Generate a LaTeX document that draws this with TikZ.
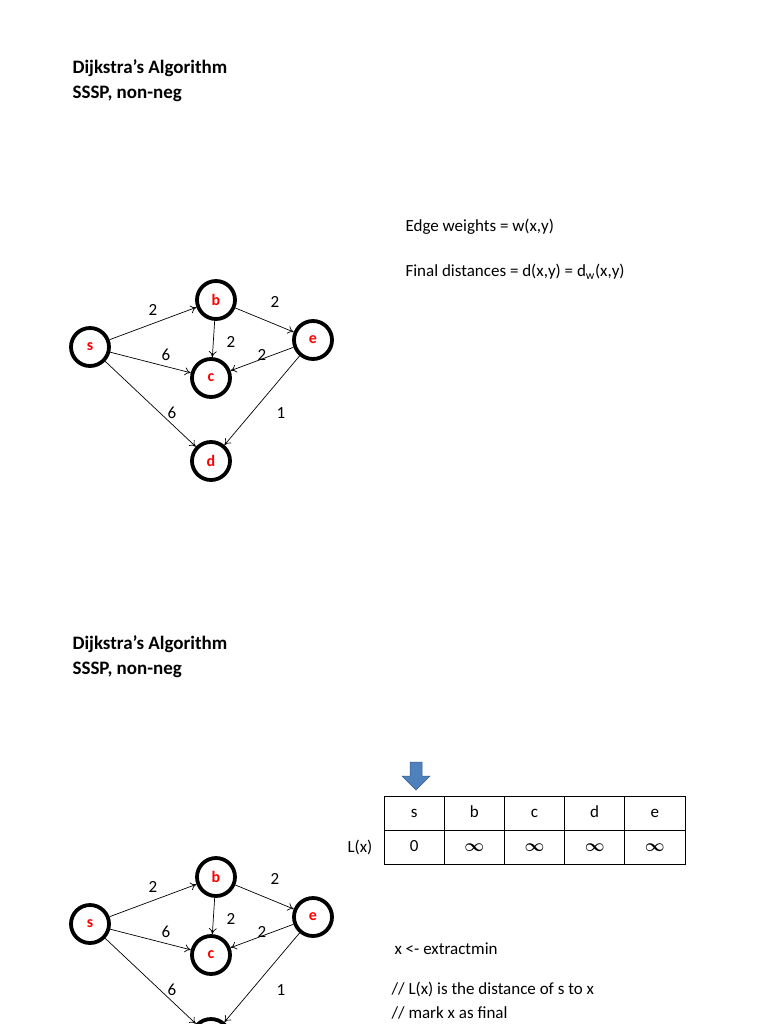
\documentclass[tikz,border=0pt]{standalone}
\usepackage{amsmath}
\usepackage{fontspec}
\setmainfont{Carlito}
\usetikzlibrary{shapes.arrows,arrows.meta}
\begin{document}
\begin{tikzpicture}[x=1pt,y=-1pt,
  vtx/.style={circle,draw=black,line width=3.8pt,minimum size=38pt,inner sep=0pt,text=red,font=\fontsize{16}{18}\selectfont\bfseries},
  edg/.style={-{To[length=6pt,width=8pt]},line width=0.7pt},
  wl/.style={font=\fontsize{17}{19}\selectfont},
  ttl/.style={anchor=west,font=\fontsize{19}{21}\selectfont\bfseries},
  txt/.style={anchor=west,font=\fontsize{17}{19}\selectfont},
  cell/.style={draw=black,line width=1pt,minimum width=60.2pt,minimum height=34pt,inner sep=0pt,text height=11pt,text depth=2pt,font=\fontsize{17}{19}\selectfont}]
\useasboundingbox (0,0) rectangle (768,1024);
\clip (0,0) rectangle (768,1024);
\fill[white] (0,0) rectangle (768,1024);
% top slide
\node[ttl] (t1) at (69,68) {Dijkstra’s Algorithm};
\node[ttl] (t2) at (69,94) {SSSP, non-neg};
\node[txt] (w1) at (402,227) {Edge weights = w(x,y)};
\node[txt] (w2) at (402,272) {Final distances = d(x,y) = d\textsubscript{w}(x,y)};
\foreach \p/\dy in {a/0,z/577}{
  \node[vtx] (s\p) at (90,347+\dy) {s};
  \node[vtx] (b\p) at (216,300+\dy) {b};
  \node[vtx] (c\p) at (211,378+\dy) {c};
  \node[vtx] (e\p) at (313,340+\dy) {e};
  \node[vtx] (d\p) at (211,461+\dy) {d};
  \draw[edg] (s\p) -- (b\p);
  \draw[edg] (s\p) -- (c\p);
  \draw[edg] (s\p) -- (d\p);
  \draw[edg] (b\p) -- (c\p);
  \draw[edg] (b\p) -- (e\p);
  \draw[edg] (e\p) -- (c\p);
  \draw[edg] (e\p) -- (d\p);
  \node[wl] (l1\p) at (153,310+\dy) {2};
  \node[wl] (l2\p) at (275,302+\dy) {2};
  \node[wl] (l3\p) at (231,342+\dy) {2};
  \node[wl] (l4\p) at (166,355+\dy) {6};
  \node[wl] (l5\p) at (262,355+\dy) {2};
  \node[wl] (l6\p) at (172,413+\dy) {6};
  \node[wl] (l7\p) at (281,413+\dy) {1};
}
% bottom slide
\node[ttl] (t3) at (69,644) {Dijkstra’s Algorithm};
\node[ttl] (t4) at (69,670) {SSSP, non-neg};
\node[single arrow,shape border rotate=270,fill={rgb,255:red,79;green,129;blue,189},draw={rgb,255:red,56;green,93;blue,138},line width=0.5pt,minimum height=28pt,minimum width=28pt,single arrow head extend=3pt,inner sep=2pt] (arr) at (416,773) {};
\foreach \t/\v [count=\i from 0] in {s/0,b/$\boldsymbol{\infty}$,c/$\boldsymbol{\infty}$,d/$\boldsymbol{\infty}$,e/$\boldsymbol{\infty}$}{
  \node[cell] (h\i) at (414.1+60.2*\i,813) {\t};
  \node[cell] (v\i) at (414.1+60.2*\i,847) {\v};
}
\node[font=\fontsize{17}{19}\selectfont] (lx) at (360,847) {L(x)};
\node[txt] (x1) at (391,949) {x <- extractmin};
\node[txt] (x2) at (388,989) {// L(x) is the distance of s to x};
\node[txt] (x3) at (388,1013) {// mark x as final};
\end{tikzpicture}
\end{document}
